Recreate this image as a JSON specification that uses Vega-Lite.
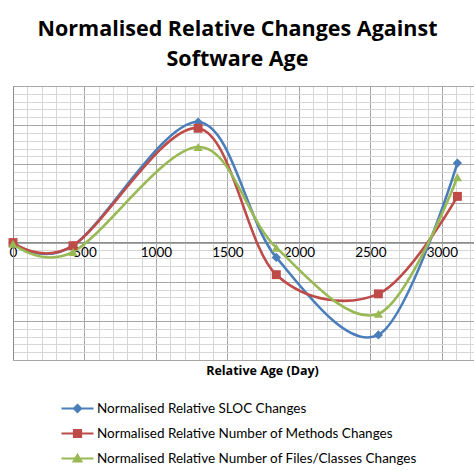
{
  "$schema": "https://vega.github.io/schema/vega-lite/v6.json",
  "width": 461,
  "height": 274,
  "autosize": {"type": "none"},
  "padding": {"left": 13, "top": 86, "right": 0, "bottom": 114},
  "background": "white",
  "title": {
    "text": ["Normalised Relative Changes Against", "Software Age"],
    "font": "Open Sans",
    "fontSize": 21.5,
    "fontWeight": "bold",
    "color": "#000000",
    "anchor": "middle",
    "dx": -6,
    "lineHeight": 30,
    "offset": 16
  },
  "config": {
    "view": {"stroke": null},
    "font": "Lato"
  },
  "data": {
    "values": [
      {"series": "Normalised Relative SLOC Changes", "age": 0, "value": 0.0},
      {"series": "Normalised Relative SLOC Changes", "age": 420, "value": -0.08},
      {"series": "Normalised Relative SLOC Changes", "age": 1295, "value": 3.08},
      {"series": "Normalised Relative SLOC Changes", "age": 1842, "value": -0.38},
      {"series": "Normalised Relative SLOC Changes", "age": 2556, "value": -2.36},
      {"series": "Normalised Relative SLOC Changes", "age": 3109, "value": 2.03},
      {"series": "Normalised Relative Number of Methods Changes", "age": 0, "value": 0.0},
      {"series": "Normalised Relative Number of Methods Changes", "age": 420, "value": -0.08},
      {"series": "Normalised Relative Number of Methods Changes", "age": 1295, "value": 2.92},
      {"series": "Normalised Relative Number of Methods Changes", "age": 1842, "value": -0.82},
      {"series": "Normalised Relative Number of Methods Changes", "age": 2556, "value": -1.31},
      {"series": "Normalised Relative Number of Methods Changes", "age": 3109, "value": 1.18},
      {"series": "Normalised Relative Number of Files/Classes Changes", "age": 0, "value": -0.03},
      {"series": "Normalised Relative Number of Files/Classes Changes", "age": 420, "value": -0.24},
      {"series": "Normalised Relative Number of Files/Classes Changes", "age": 1295, "value": 2.44},
      {"series": "Normalised Relative Number of Files/Classes Changes", "age": 1842, "value": -0.13},
      {"series": "Normalised Relative Number of Files/Classes Changes", "age": 2556, "value": -1.82},
      {"series": "Normalised Relative Number of Files/Classes Changes", "age": 3109, "value": 1.67}
    ]
  },
  "encoding": {
    "x": {
      "field": "age",
      "type": "quantitative",
      "scale": {"domain": [0, 3225], "nice": false, "zero": false},
      "axis": {
        "orient": "bottom",
        "offset": -118,
        "values": [0,100,200,300,400,500,600,700,800,900,1000,1100,1200,1300,1400,1500,1600,1700,1800,1900,2000,2100,2200,2300,2400,2500,2600,2700,2800,2900,3000,3100,3200],
        "labelExpr": "datum.value % 500 === 0 ? datum.label : ''",
        "format": "d",
        "grid": true,
        "gridColor": {"condition": {"test": "datum.value % 500 === 0", "value": "#a6a6a6"}, "value": "#d6d6d6"},
        "gridWidth": 1,
        "ticks": false,
        "domain": true,
        "domainColor": "#8c8c8c",
        "labelFont": "Lato",
        "labelFontSize": 13.5,
        "labelColor": "#000000",
        "labelPadding": 3,
        "labelFlush": false,
        "labelOverlap": false,
        "title": "Relative Age (Day)",
        "titleFont": "Open Sans",
        "titleFontSize": 12.5,
        "titleFontWeight": "bold",
        "titleColor": "#000000",
        "titleX": 249,
        "titleY": 132,
        "titleBaseline": "alphabetic",
        "titleAnchor": "middle"
      }
    },
    "y": {
      "field": "value",
      "type": "quantitative",
      "scale": {"domain": [-3, 4], "nice": false, "zero": false},
      "axis": {
        "orient": "left",
        "values": [-3,-2.8,-2.6,-2.4,-2.2,-2,-1.8,-1.6,-1.4,-1.2,-1,-0.8,-0.6,-0.4,-0.2,0,0.2,0.4,0.6,0.8,1,1.2,1.4,1.6,1.8,2,2.2,2.4,2.6,2.8,3,3.2,3.4,3.6,3.8,4],
        "labels": false,
        "ticks": false,
        "grid": true,
        "gridColor": {"condition": {"test": "abs(datum.value - round(datum.value)) < 0.001", "value": "#a6a6a6"}, "value": "#d6d6d6"},
        "domain": true,
        "domainColor": "#8c8c8c",
        "title": null
      }
    },
    "color": {
      "field": "series",
      "type": "nominal",
      "scale": {
        "domain": ["Normalised Relative SLOC Changes", "Normalised Relative Number of Methods Changes", "Normalised Relative Number of Files/Classes Changes"],
        "range": ["#4A7EBB", "#BE4B48", "#98B954"]
      },
      "legend": {
        "orient": "none",
        "legendX": 53,
        "legendY": 311,
        "title": null,
        "padding": 0,
        "symbolSize": 400,
        "symbolStrokeWidth": 2.2,
        "labelOffset": 8,
        "labelFont": "Lato",
        "labelFontSize": 13.5,
        "labelColor": "#000000",
        "labelLimit": 400,
        "rowPadding": 5,
        "encode": {
          "symbols": {
            "update": {
              "shape": {"signal": "datum.value === 'Normalised Relative SLOC Changes' ? 'M-1.6,0L1.6,0M0,-0.35L0.35,0L0,0.35L-0.35,0Z' : datum.value === 'Normalised Relative Number of Methods Changes' ? 'M-1.6,0L1.6,0M-0.35,-0.35L0.35,-0.35L0.35,0.35L-0.35,0.35Z' : 'M-1.6,0L1.6,0M0,-0.35L0.38,0.3L-0.38,0.3Z'"},
              "fill": {"signal": "scale('color', datum.value)"},
              "stroke": {"signal": "scale('color', datum.value)"},
              "opacity": {"value": 1}
            }
          }
        }
      }
    }
  },
  "layer": [
    {
      "mark": {"type": "line", "interpolate": "cardinal", "strokeWidth": 2.6}
    },
    {
      "transform": [{"filter": "datum.series === 'Normalised Relative SLOC Changes'"}],
      "mark": {"type": "point", "filled": true, "opacity": 1, "size": 85, "shape": "diamond"}
    },
    {
      "transform": [{"filter": "datum.series === 'Normalised Relative Number of Methods Changes'"}],
      "mark": {"type": "point", "filled": true, "opacity": 1, "size": 80, "shape": "square"}
    },
    {
      "transform": [{"filter": "datum.series === 'Normalised Relative Number of Files/Classes Changes'"}],
      "mark": {"type": "point", "filled": true, "opacity": 1, "size": 85, "shape": "triangle-up"}
    }
  ]
}
